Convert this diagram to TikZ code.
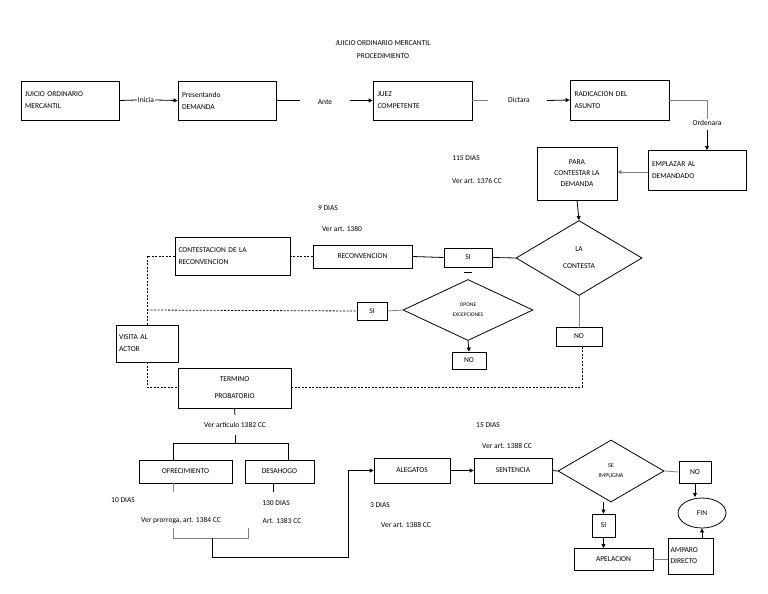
\documentclass[tikz,border=0pt]{standalone}
\usepackage{fontspec}
\setmainfont{Carlito}
\usetikzlibrary{shapes.geometric,arrows.meta}
\begin{document}
\begin{tikzpicture}[x=1pt,y=-1pt,font=\fontsize{7.5}{9}\selectfont,
 bx/.style={draw,thick,rectangle,inner sep=0pt},
 dm/.style={draw,thick,diamond,inner sep=0pt,aspect=1.7},
 ln/.style={thick},
 gl/.style={thick,gray},
 ar/.style={thick,-{Triangle[length=4pt,width=4pt]}},
 ds/.style={thick,dashed,dash pattern=on 2pt off 1.5pt},
 lb/.style={inner sep=1pt}]
\useasboundingbox (0,0) rectangle (768,594);
\node[lb] (t1) at (383,43) {JUICIO ORDINARIO MERCANTIL};
\node[lb] (t2) at (383,56) {PROCEDIMIENTO};
% row 1
\node[bx,minimum width=98,minimum height=39,align=left,text width=90] (b1) at (70,100.5) {JUICIO ORDINARIO\\[3pt]MERCANTIL};
\node[bx,minimum width=98,minimum height=39,align=left,text width=90] (b2) at (227,100.5) {Presentando\\[3pt]DEMANDA};
\node[bx,minimum width=99,minimum height=39,align=left,text width=90] (b3) at (422.5,100.5) {JUEZ\\[3pt]COMPETENTE};
\node[bx,minimum width=99,minimum height=40,align=left,text width=90] (b4) at (619.5,100) {RADICACION DEL\\[3pt]ASUNTO};
\node[bx,minimum width=98,minimum height=40,align=left,text width=90] (b5) at (697,170) {EMPLAZAR AL\\[3pt]DEMANDADO};
\node[bx,minimum width=80,minimum height=53,align=center] (b6) at (577,173.5) {PARA\\[2pt]CONTESTAR LA\\[2pt]DEMANDA};
\node[lb] (l1) at (146,100) {Inicia};
\node[lb] (l2) at (325,102) {Ante};
\node[lb] (l3) at (519,100) {Dictara};
\node[lb] (l4) at (707,123) {Ordenara};
\draw[ln] (b1.east) -- (l1.west);
\draw[ar] (l1.east) -- (b2.west);
\draw[ln] (b2.east) -- (300,100.5);
\draw[ar] (350,100.5) -- (b3.west);
\draw[gl] (b3.east) -- (488,100.5);
\draw[ar] (547,100.5) -- (b4.west);
\draw[gl] (b4.east) -- (707,100) -- (l4.north);
\draw[ar] (l4.south)+(0,3) -- (707,150);
\draw[ar,gray] (b5.west|-0,172) -- (b6.east|-0,172);
\node[lb] at (466,158) {115 DIAS};
\node[lb] at (477,181) {Ver art. 1376 CC};
% la contesta
\node[dm,minimum width=126,minimum height=75] (d1) at (579,258) {};
\node[align=center] at (579,258) {LA\\[8pt]CONTESTA};
\draw[ar] (b6.south) -- (d1.north);
\node[bx,minimum width=48,minimum height=19] (si1) at (468,257.5) {SI};
\node[bx,minimum width=99,minimum height=23] (rec) at (362.5,256.5) {RECONVENCION};
\draw[ln] (d1.west) -- (si1.east);
\draw[ln] (si1.west) -- (rec.east);
\draw[thin] (464,272) -- (472,272);
\node[lb] at (328,208) {9 DIAS};
\node[lb] at (342,229) {Ver art. 1380};
\node[bx,minimum width=115,minimum height=38,align=left,text width=108] (crec) at (232.5,256) {CONTESTACION DE LA\\[3pt]RECONVENCION};
\draw[ds] (rec.west) -- (crec.east|-rec.west);
\node[bx,minimum width=62,minimum height=37,align=left,text width=56] (vis) at (147,343.5) {VISITA AL\\[3pt]ACTOR};
\draw[ds] (crec.west) -- (147,256) -- (vis.north);
\node[bx,minimum width=30,minimum height=18] (si2) at (372,311) {SI};
\draw[ds] (147,310) -- (si2.west);
\node[dm,minimum width=130,minimum height=61] (d2) at (468,310) {};
\node[align=center,font=\fontsize{5.5}{7}\selectfont] at (468,310) {OPONE\\[3pt]EXCEPCIONES};
\draw[gl] (si2.east) -- (d2.west);
\node[bx,minimum width=34,minimum height=17] (no2) at (469,360.5) {NO};
\draw[ar] (d2.south) -- (no2.north);
\node[bx,minimum width=46,minimum height=19] (no1) at (579,336.5) {NO};
\draw[gl] (d1.south) -- (no1.north);
\node[bx,minimum width=113,minimum height=40,align=center] (ter) at (234.5,388) {TERMINO\\[8pt]PROBATORIO};
\draw[ds] (vis.south) -- (147,387) -- (ter.west|-0,387);
\draw[ds] (ter.east|-0,387) -- (582,387) -- (582,346);
% lower
\node[lb] (va) at (235,425) {Ver articulo 1382 CC};
\draw[ln] (ter.south) -- (235,415);
\node[bx,minimum width=93,minimum height=23] (ofr) at (185.5,471.5) {OFRECIMIENTO};
\node[bx,minimum width=69,minimum height=23] (des) at (279.5,471.5) {DESAHOGO};
\draw[ln] (235,435) -- (235,443);
\draw[ln] (173,460) -- (173,443) -- (288,443) -- (288,460);
\draw[gl] (173,483) -- (173,492);
\draw[ln] (273,483) -- (273,492);
\node[lb] at (123,500) {10 DIAS};
\node[lb] at (181,521) {Ver prorroga, art. 1384 CC};
\node[lb] at (276,503) {130 DIAS};
\node[lb] at (282,521) {Art. 1383 CC};
\node[bx,minimum width=76,minimum height=25] (ale) at (412,470.5) {ALEGATOS};
\node[bx,minimum width=78,minimum height=25] (sen) at (513,470.5) {SENTENCIA};
\draw[gl] (173,528) -- (173,538) -- (248,538) -- (248,528);
\draw[ar] (212,538) -- (212,557) -- (348,557) -- (348,470.5) -- (ale.west);
\draw[ar] (ale.east) -- (sen.west);
\node[lb] at (380,505) {3 DIAS};
\node[lb] at (406,525) {Ver art. 1388 CC};
\node[lb] at (488,425) {15 DIAS};
\node[lb] at (507,446) {Ver art. 1388 CC};
\node[dm,minimum width=106,minimum height=62] (d3) at (611,471) {};
\node[align=center,font=\fontsize{6}{7}\selectfont] at (611,471) {SE\\[3pt]IMPUGNA};
\draw[ln] (sen.east) -- (d3.west);
\node[bx,minimum width=32,minimum height=22] (no3) at (695,472) {NO};
\draw[gl] (d3.east) -- (no3.west);
\node[draw,thick,ellipse,minimum width=48,minimum height=30] (fin) at (702,513) {FIN};
\draw[ar] (no3.south) -- (695,497);
\node[bx,minimum width=23,minimum height=23] (si3) at (603.5,525.5) {SI};
\draw[ar] (603.5,502) -- (si3.north);
\node[bx,minimum width=79,minimum height=22] (ape) at (613.5,559) {APELACION};
\draw[ar] (si3.south) -- (603.5,548);
\node[bx,minimum width=45,minimum height=36,align=left,text width=40] (amp) at (690.5,556) {AMPARO\\[2pt]DIRECTO};
\draw[gl] (ape.east) -- (amp.west|-ape.east);
\draw[ar] (702,538) -- (fin.south);
\end{tikzpicture}
\end{document}
